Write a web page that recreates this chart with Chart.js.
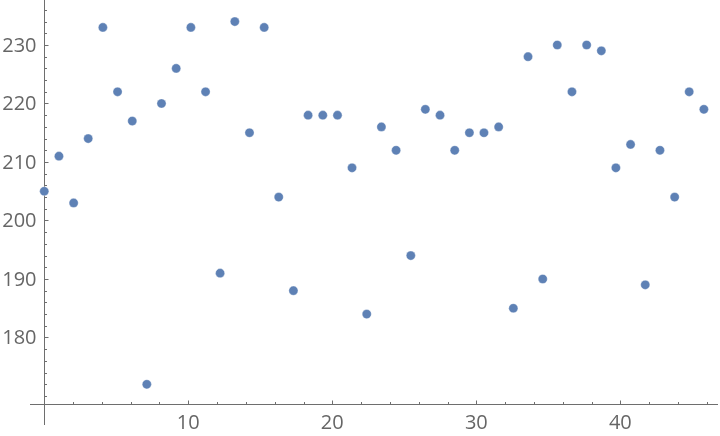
<!DOCTYPE html>
<html>
<head>
<meta charset="utf-8">
<script src="https://cdn.jsdelivr.net/npm/chart.js@4"></script>
<style>
  html, body { margin: 0; padding: 0; background: #fff; }
  #wrap { width: 720px; height: 436px; }
</style>
</head>
<body>
<div id="wrap"><canvas id="chart" width="720" height="436"></canvas></div>
<script>
// x positions of the points (slightly wider than 1 apart)
const xValues = [0, 1.02, 2.04, 3.05, 4.07, 5.09, 6.11, 7.12, 8.14, 9.16,
  10.18, 11.2, 12.21, 13.23, 14.25, 15.27, 16.28, 17.3, 18.32, 19.34,
  20.36, 21.37, 22.39, 23.41, 24.43, 25.45, 26.46, 27.48, 28.5, 29.52,
  30.53, 31.55, 32.57, 33.59, 34.61, 35.62, 36.64, 37.66, 38.68, 39.69,
  40.71, 41.73, 42.75, 43.77, 44.78, 45.8];
const yValues = [205, 211, 203, 214, 233, 222, 217, 172, 220, 226,
  233, 222, 191, 234, 215, 233, 204, 188, 218, 218,
  218, 209, 184, 216, 212, 194, 219, 218, 212, 215,
  215, 216, 185, 228, 190, 230, 222, 230, 229, 209,
  213, 189, 212, 204, 222, 219];

const xMajorTicks = [10, 20, 30, 40];
const yMajorTicks = [180, 190, 200, 210, 220, 230];
const xMinorTicks = [2, 4, 6, 8, 12, 14, 16, 18, 22, 24, 26, 28, 32, 34, 36, 38, 42, 44, 46];
const yMinorTicks = [170, 172, 174, 176, 178, 182, 184, 186, 188, 192, 194, 196, 198,
  202, 204, 206, 208, 212, 214, 216, 218, 222, 224, 226, 228, 232, 234, 236];

// where the two axes cross (Mathematica style origin)
const originX = 0;
const originY = 168.6;

const axisColor = '#6e6e6e';
const labelColor = '#666666';
const labelFont = '20px "Open Sans", sans-serif';

const points = xValues.map((x, i) => ({ x: x, y: yValues[i] }));

const axesPlugin = {
  id: 'mmaAxes',
  beforeDatasetsDraw(chart) {
    const ctx = chart.ctx;
    const xs = chart.scales.x;
    const ys = chart.scales.y;
    const area = chart.chartArea;
    const ax = Math.round(xs.getPixelForValue(originX)) + 0.5;
    const ay = Math.round(ys.getPixelForValue(originY)) + 0.5;

    ctx.save();
    ctx.strokeStyle = axisColor;
    ctx.lineWidth = 1;
    ctx.beginPath();
    ctx.moveTo(area.left, ay); ctx.lineTo(area.right, ay);
    ctx.moveTo(ax, area.top); ctx.lineTo(ax, area.bottom);
    ctx.stroke();

    // ticks on x axis (pointing up)
    ctx.beginPath();
    xMajorTicks.forEach(v => {
      const px = Math.round(xs.getPixelForValue(v)) + 0.5;
      ctx.moveTo(px, ay); ctx.lineTo(px, ay - 4);
    });
    xMinorTicks.forEach(v => {
      const px = Math.round(xs.getPixelForValue(v)) + 0.5;
      ctx.moveTo(px, ay); ctx.lineTo(px, ay - 2.5);
    });
    // ticks on y axis (pointing right)
    yMajorTicks.forEach(v => {
      const py = Math.round(ys.getPixelForValue(v)) + 0.5;
      ctx.moveTo(ax, py); ctx.lineTo(ax + 4, py);
    });
    yMinorTicks.forEach(v => {
      const py = Math.round(ys.getPixelForValue(v)) + 0.5;
      ctx.moveTo(ax, py); ctx.lineTo(ax + 2.5, py);
    });
    ctx.stroke();

    // labels
    ctx.fillStyle = labelColor;
    ctx.font = labelFont;
    ctx.textAlign = 'center';
    ctx.textBaseline = 'middle';
    xMajorTicks.forEach(v => {
      ctx.fillText(String(v), xs.getPixelForValue(v), ay + 18.5);
    });
    ctx.textAlign = 'right';
    yMajorTicks.forEach(v => {
      ctx.fillText(String(v), ax - 8, ys.getPixelForValue(v) + 1);
    });
    ctx.restore();
  }
};

new Chart(document.getElementById('chart'), {
  type: 'scatter',
  data: {
    datasets: [{
      data: points,
      backgroundColor: '#5e81b5',
      borderColor: 'rgba(255,255,255,0.6)',
      borderWidth: 0.6,
      pointRadius: 4.6,
      pointHoverRadius: 4.6,
      clip: false
    }]
  },
  options: {
    responsive: false,
    animation: false,
    events: [],
    layout: { autoPadding: false, padding: { left: 30, right: 2, top: 0, bottom: 11 } },
    plugins: { legend: { display: false }, tooltip: { enabled: false } },
    scales: {
      x: { type: 'linear', display: false, min: -0.99, max: 46.78 },
      y: { type: 'linear', display: false, min: 165.04, max: 237.69 }
    }
  },
  plugins: [axesPlugin]
});
</script>
</body>
</html>
